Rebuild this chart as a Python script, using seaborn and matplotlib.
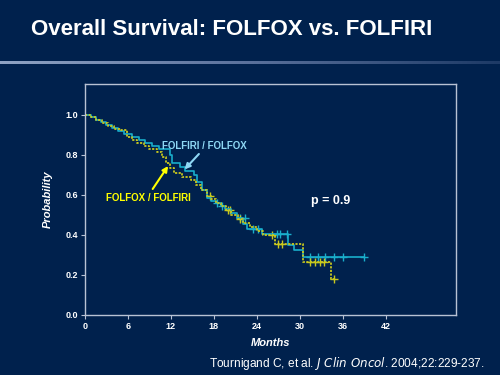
import matplotlib
matplotlib.use("Agg")
import matplotlib.pyplot as plt
import seaborn as sns
import pandas as pd
import numpy as np
from matplotlib.colors import LinearSegmentedColormap

# ---- data ----
folfiri_t = [0, 0.8, 1.5, 2.3, 3.0, 3.8, 4.6, 5.5, 6.5, 7.5, 8.4, 9.3, 10.3, 11.8, 12.2, 13.2,
             14.0, 15.2, 15.7, 16.3, 17.0, 17.6, 18.3, 19.0, 19.6, 20.4, 21.2, 22.0, 22.6,
             24.7, 28.4, 29.2, 30.4, 39.0]
folfiri_s = [1.0, 0.99, 0.975, 0.965, 0.95, 0.935, 0.92, 0.905, 0.89, 0.875, 0.86, 0.845, 0.83,
             0.80, 0.76, 0.74, 0.72, 0.70, 0.665, 0.625, 0.585, 0.57, 0.56, 0.545, 0.53, 0.51,
             0.485, 0.455, 0.43, 0.405, 0.35, 0.325, 0.29, 0.29]
folfox_t = [0, 0.8, 1.6, 2.4, 3.2, 4.0, 5.0, 5.8, 6.5, 7.3, 8.2, 9.0, 10.0, 10.7, 11.3, 11.8,
            12.4, 13.5, 14.8, 15.5, 16.2, 17.0, 17.6, 18.3, 19.0, 19.7, 20.4, 21.3, 22.1, 23.0,
            24.0, 24.9, 26.5, 30.5, 34.3, 34.8]
folfox_s = [1.0, 0.99, 0.975, 0.96, 0.945, 0.93, 0.925, 0.89, 0.875, 0.86, 0.845, 0.83, 0.815,
            0.79, 0.76, 0.735, 0.71, 0.69, 0.675, 0.65, 0.625, 0.595, 0.58, 0.56, 0.545, 0.525,
            0.5, 0.48, 0.46, 0.44, 0.42, 0.40, 0.357, 0.266, 0.178, 0.178]
folfiri_cens_t = [18.4, 19.1, 21.6, 22.3, 23.5, 24.2, 26.8, 27.2, 28.2, 31.4, 32.6, 33.5, 34.7, 36.0, 38.9]
folfiri_cens_s = [0.56, 0.545, 0.485, 0.485, 0.43, 0.43, 0.405, 0.405, 0.405, 0.29, 0.29, 0.29, 0.29, 0.29, 0.29]
folfox_cens_t = [17.5, 20.0, 20.3, 21.6, 26.1, 27.0, 27.5, 31.4, 32.1, 32.8, 33.3, 34.7]
folfox_cens_s = [0.595, 0.525, 0.525, 0.48, 0.40, 0.357, 0.357, 0.266, 0.266, 0.266, 0.266, 0.178]

x_ticks = [0, 6, 12, 18, 24, 30, 36, 42]
y_ticks = [0.0, 0.2, 0.4, 0.6, 0.8, 1.0]

BG = "#00214d"
CYAN = "#19aecb"
YEL = "#c8c81e"

sns.set_theme(style="dark")
plt.rcParams["font.family"] = ["Liberation Sans", "DejaVu Sans"]

fig = plt.figure(figsize=(5, 3.75), dpi=100, facecolor=BG)

# thin separator band under the title
band = fig.add_axes([0.0, 0.828, 1.0, 0.009])
cmap = LinearSegmentedColormap.from_list("band", ["#8fa3c4", "#5a719c", "#1d3a66"])
band.imshow(np.linspace(0, 1, 256)[None, :], aspect="auto", cmap=cmap)
band.set_axis_off()

ax = fig.add_axes([0.17, 0.16, 0.742, 0.616])
ax.set_facecolor(BG)

df_a = pd.DataFrame({"t": folfiri_t, "s": folfiri_s})
df_b = pd.DataFrame({"t": folfox_t, "s": folfox_s})
sns.lineplot(data=df_a, x="t", y="s", ax=ax, color=CYAN, lw=1.2, drawstyle="steps-post",
             estimator=None, sort=False)
sns.lineplot(data=df_b, x="t", y="s", ax=ax, color=YEL, lw=1.3, drawstyle="steps-post",
             estimator=None, sort=False, linestyle=(0, (1.2, 0.8)))
sns.scatterplot(x=folfiri_cens_t, y=folfiri_cens_s, ax=ax, marker="+", color=CYAN, s=30,
                linewidth=1.0)
sns.scatterplot(x=folfox_cens_t, y=folfox_cens_s, ax=ax, marker="+", color=YEL, s=30,
                linewidth=1.0)

ax.set_xlim(0, 51.8)
ax.set_ylim(0, 1.155)
ax.set_xticks(x_ticks)
ax.set_xticklabels([str(v) for v in x_ticks])
ax.set_yticks(y_ticks)
ax.set_yticklabels([f"{v:.1f}" for v in y_ticks])
ax.tick_params(colors="white", labelsize=6.5, length=3, width=0.8, pad=2,
               bottom=True, left=True)
for lab in ax.get_xticklabels() + ax.get_yticklabels():
    lab.set_fontweight("bold")
for sp in ax.spines.values():
    sp.set_visible(True)
    sp.set_color("#b8c2d4")
    sp.set_linewidth(1.0)
ax.tick_params(axis="both", color="#b8c2d4")
ax.grid(False)
ax.set_xlabel("Months", color="white", fontsize=8, fontweight="bold", style="italic", labelpad=5)
ax.set_ylabel("Probability", color="white", fontsize=8, fontweight="bold", style="italic", labelpad=9)

# annotations
ax.text(10.8, 0.847, "FOLFIRI / FOLFOX", color="#8fd8f5", fontsize=7, fontweight="bold",
        ha="left", va="center")
ax.annotate("", xy=(13.9, 0.728), xytext=(15.9, 0.805),
            arrowprops=dict(arrowstyle="-|>", color="#8fd8f5", lw=1.5, mutation_scale=8,
                            shrinkA=0, shrinkB=0))
ax.text(3.0, 0.587, "FOLFOX / FOLFIRI", color="#ffff00", fontsize=7, fontweight="bold",
        ha="left", va="center")
ax.annotate("", xy=(11.6, 0.745), xytext=(9.45, 0.63),
            arrowprops=dict(arrowstyle="-|>", color="#ffff00", lw=1.5, mutation_scale=8,
                            shrinkA=0, shrinkB=0))
ax.text(31.6, 0.57, "p = 0.9", color="white", fontsize=9, fontweight="bold", ha="left", va="center")

fig.text(0.062, 0.922, "Overall Survival: FOLFOX vs. FOLFIRI", color="white", fontsize=16,
         fontweight="bold", ha="left", va="center")
fig.text(0.97, 0.032, "Tournigand C, et al. $\\mathit{J\\ Clin\\ Oncol}$. 2004;22:229-237.",
         color="white", fontsize=8.6, ha="right", va="center")

fig.savefig("out.png", dpi=100, facecolor=BG)
